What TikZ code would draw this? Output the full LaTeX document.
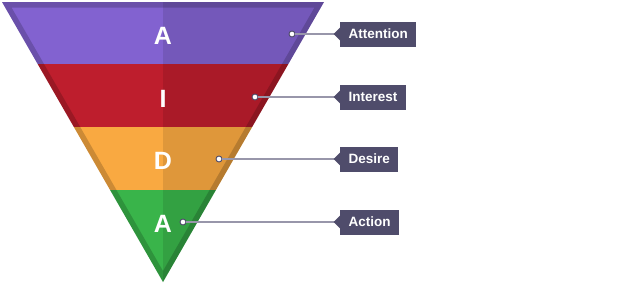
\documentclass[tikz,border=0pt]{standalone}
\usepackage{fontspec}
\setmainfont{Liberation Sans}
\usepackage{xcolor}
\usepackage{tikz}
\usetikzlibrary{positioning, calc}

\definecolor{attcol}{HTML}{8262D0}
\definecolor{intcol}{HTML}{BE1E2D}
\definecolor{descol}{HTML}{F9A941}
\definecolor{actcol}{HTML}{39B44A}
\definecolor{tagcol}{HTML}{4F4C6B}
\definecolor{lncol}{HTML}{9896AA}

\begin{document}
\begin{tikzpicture}[
  x=1pt, y=-1pt,
  font=\bfseries,
  ltr/.style={text=white, inner sep=0pt, anchor=base, font=\fontsize{25}{25}\selectfont\bfseries},
  tag/.style={fill=tagcol, text=white, anchor=west, minimum height=25pt, inner xsep=8.5pt,
              inner ysep=0pt, font=\fontsize{13.5}{14}\selectfont\bfseries},
  pin/.style={circle, draw=tagcol, fill=white, line width=0.9pt, inner sep=0pt, minimum size=6pt},
  ln/.style={draw=lncol, line width=1.4pt}
]
\useasboundingbox (0,0) rectangle (624,284);
% funnel
\begin{scope}
  \clip (2,2) -- (324,2) -- (163,282) -- cycle;
  \fill[attcol] (0,0)   rectangle (330,64);
  \fill[intcol] (0,64)  rectangle (330,127);
  \fill[descol] (0,127) rectangle (330,190);
  \fill[actcol] (0,190) rectangle (330,290);
  \fill[black, opacity=0.1] (163,0) rectangle (330,290);
  \draw[black, opacity=0.18, line width=11pt] (2,2) -- (324,2) -- (163,282) -- cycle;
\end{scope}
\node[ltr] at (163,44)  (l-att) {A};
\node[ltr] at (163,107) (l-int) {I};
\node[ltr] at (163,169) (l-des) {D};
\node[ltr] at (163,232) (l-act) {A};
% labels
\node[tag] at (340,34)  (t-att) {Attention};
\node[tag] at (340,97)  (t-int) {Interest};
\node[tag] at (340,159) (t-des) {Desire};
\node[tag] at (340,222) (t-act) {Action};
\node[pin] at (292,34)  (p-att) {};
\node[pin] at (255,97)  (p-int) {};
\node[pin] at (219,159) (p-des) {};
\node[pin] at (183,222) (p-act) {};
\foreach \n in {att,int,des,act}{
  \draw[ln] (p-\n) -- (t-\n);
  \fill[tagcol] (t-\n.west) ++(-6.5,0) -- ++(6.5,-6.5) -- ++(0,13) -- cycle;
}
\end{tikzpicture}
\end{document}
